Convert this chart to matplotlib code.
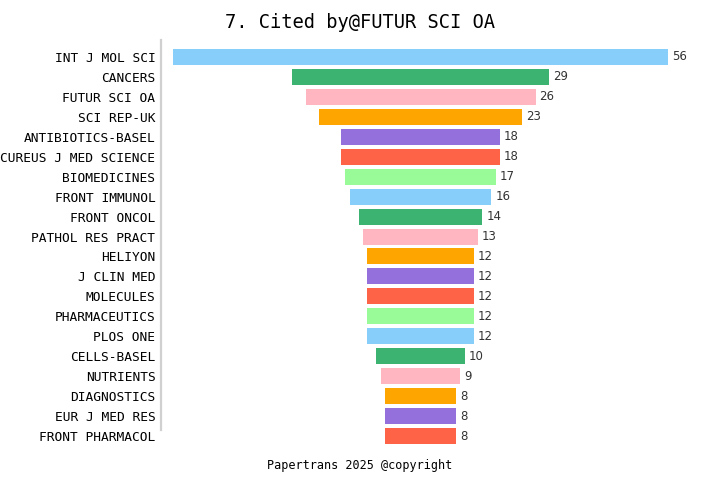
import matplotlib
matplotlib.use("Agg")
import matplotlib.pyplot as plt

journals = ["INT J MOL SCI", "CANCERS", "FUTUR SCI OA", "SCI REP-UK", "ANTIBIOTICS-BASEL",
            "CUREUS J MED SCIENCE", "BIOMEDICINES", "FRONT IMMUNOL", "FRONT ONCOL",
            "PATHOL RES PRACT", "HELIYON", "J CLIN MED", "MOLECULES", "PHARMACEUTICS",
            "PLOS ONE", "CELLS-BASEL", "NUTRIENTS", "DIAGNOSTICS", "EUR J MED RES",
            "FRONT PHARMACOL"]
counts = [56, 29, 26, 23, 18, 18, 17, 16, 14, 13, 12, 12, 12, 12, 12, 10, 9, 8, 8, 8]
palette = ["#87CEFA", "#3CB371", "#FFB6C1", "#FFA500", "#9370DB", "#FF6347", "#98FB98"]

mono = "DejaVu Sans Mono"

fig = plt.figure(figsize=(7.2, 4.8), dpi=100)
ax = fig.add_axes([161 / 720, 1 - 453 / 480, (700 - 161) / 720, (453 - 40) / 480])

pos = list(range(len(journals)))
colors = [palette[i % len(palette)] for i in pos]
lefts = [-c / 2 for c in counts]
ax.barh(pos, counts, left=lefts, height=0.8, color=colors)

for i, c in enumerate(counts):
    ax.text(c / 2 + 0.45, i, str(c), va="center", ha="left", fontsize=8.5, color="#333333")

ax.set_xlim(-29.35, 31.6)
ax.set_ylim(len(journals) - 0.15, -0.85)
ax.set_yticks(pos)
ax.set_yticklabels(journals, fontfamily=mono, fontsize=9.3)
ax.tick_params(axis="y", length=0, pad=4)
ax.set_xticks([])
for s in ["top", "right", "bottom"]:
    ax.spines[s].set_visible(False)
ax.spines["left"].set_color("#d0d0d0")
ax.spines["left"].set_linewidth(1.6)
ax.spines["left"].set_bounds(len(journals) - 1.3, -0.85)

fig.text(0.5, 1 - 22 / 480, "7. Cited by@FUTUR SCI OA", ha="center", va="center",
         fontfamily=mono, fontsize=13.5)
fig.text(0.5, 1 - 466 / 480, "Papertrans 2025 @copyright", ha="center", va="center",
         fontfamily=mono, fontsize=8.5)

fig.savefig("out.png", dpi=100)
